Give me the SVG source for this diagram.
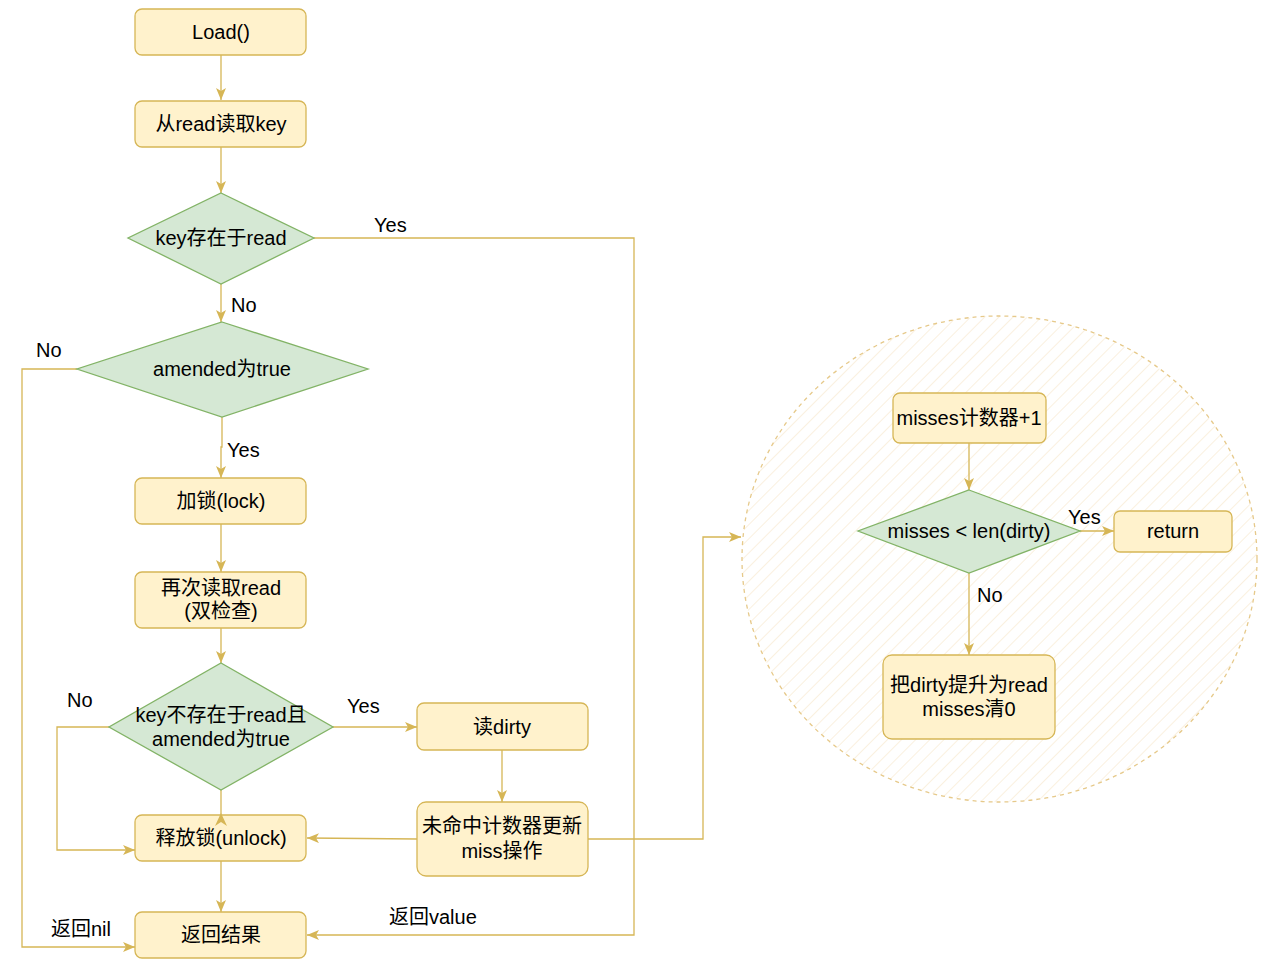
<svg xmlns="http://www.w3.org/2000/svg" width="1280" height="968" viewBox="0 0 1280 968">
<style>
.box{fill:#fff2cc;stroke:#d6b656;stroke-width:1.3}
.dia{fill:#d5e8d4;stroke:#82b366;stroke-width:1.3}
.t{font-family:"Liberation Sans","Noto Sans CJK SC",sans-serif;font-size:20px;fill:#000;text-anchor:middle;dominant-baseline:central}
.l{font-family:"Liberation Sans","Noto Sans CJK SC",sans-serif;font-size:20px;fill:#000;dominant-baseline:central}
.c{fill:none;stroke:#d6b656;stroke-width:1.3}
.a{marker-end:url(#arr)}
</style>
<defs>
<marker id="arr" viewBox="0 0 12 10" refX="12" refY="5" markerWidth="12" markerHeight="10" markerUnits="userSpaceOnUse" orient="auto">
<path d="M0,0 L12,5 L0,10 L3,5 Z" fill="#d6b656"/>
</marker>
<pattern id="hatch" patternUnits="userSpaceOnUse" width="10" height="10" patternTransform="rotate(45)">
<line x1="0" y1="0" x2="0" y2="10" stroke="#f5e2c0" stroke-width="1"/>
</pattern>
</defs>

<g id="subprocess">
<ellipse cx="999.5" cy="559" rx="257.5" ry="243" fill="#fff" stroke="none"/>
<ellipse cx="999.5" cy="559" rx="257.5" ry="243" fill="url(#hatch)" stroke="#e6c98a" stroke-width="1.3" stroke-dasharray="4 4"/>
</g>

<g id="connectors">
<path class="c a" d="M221,55 V100"/>
<path class="c a" d="M221,147 V193"/>
<path class="c a" d="M314,238 H634 V935 H307"/>
<path class="c a" d="M221,284 V322"/>
<path class="c a" d="M77,369 H22 V947 H135"/>
<path class="c a" d="M222,417 V447 H221 V478"/>
<path class="c a" d="M221,524 V572"/>
<path class="c a" d="M221,628 V663"/>
<path class="c a" d="M333,727 H417"/>
<path class="c a" d="M109,727 H57 V850 H135"/>
<path class="c" d="M221,790 V815"/>
<path class="c a" d="M502,750 V802"/>
<path class="c a" d="M417,839 L307,838"/>
<path class="c a" d="M588,839 H703 V537 H741"/>
<path class="c a" d="M221,861 V912"/>
<path class="c a" d="M969,443 V490"/>
<path class="c a" d="M1080,531 H1114"/>
<path class="c a" d="M969,573 V655"/>
<text class="l" x="374" y="225">Yes</text>
<text class="l" x="231" y="305">No</text>
<text class="l" x="36" y="350">No</text>
<text class="l" x="227" y="450">Yes</text>
<text class="l" x="67" y="700">No</text>
<text class="l" x="347" y="706">Yes</text>
<text class="l" x="389" y="917">返回value</text>
<text class="l" x="51" y="929">返回nil</text>
<text class="l" x="1068" y="517">Yes</text>
<text class="l" x="977" y="595">No</text>
</g>

<g id="load">
<rect class="box" x="135" y="9" width="171" height="46" rx="7"/>
<text class="t" x="221" y="32">Load()</text>
</g>
<g id="readkey">
<rect class="box" x="135" y="101" width="171" height="46" rx="7"/>
<text class="t" x="221" y="124">从read读取key</text>
</g>
<g id="inread">
<polygon class="dia" points="221,193 314,238 221,284 128,238"/>
<text class="t" x="221" y="238">key存在于read</text>
</g>
<g id="amended">
<polygon class="dia" points="222,322 368,369 222,417 77,369"/>
<text class="t" x="222" y="369">amended为true</text>
</g>
<g id="lock">
<rect class="box" x="135" y="478" width="171" height="46" rx="7"/>
<text class="t" x="221" y="501">加锁(lock)</text>
</g>
<g id="reread">
<rect class="box" x="135" y="572" width="171" height="56" rx="7"/>
<text class="t" x="221" y="588">再次读取read</text>
<text class="t" x="221" y="611">(双检查)</text>
</g>
<g id="check2">
<polygon class="dia" points="221,663 333,727 221,790 109,727"/>
<text class="t" x="221" y="715">key不存在于read且</text>
<text class="t" x="221" y="739">amended为true</text>
</g>
<g id="readdirty">
<rect class="box" x="417" y="703" width="171" height="47" rx="7"/>
<text class="t" x="502" y="727">读dirty</text>
</g>
<g id="miss">
<rect class="box" x="417" y="802" width="171" height="74" rx="9"/>
<text class="t" x="502" y="826">未命中计数器更新</text>
<text class="t" x="502" y="851">miss操作</text>
</g>
<g id="unlock">
<rect class="box" x="135" y="815" width="171" height="46" rx="7"/>
<text class="t" x="221" y="838">释放锁(unlock)</text>
</g>
<g id="result">
<rect class="box" x="135" y="912" width="171" height="46" rx="7"/>
<text class="t" x="221" y="935">返回结果</text>
</g>
<g id="missesinc">
<rect class="box" x="893" y="393" width="153" height="50" rx="7"/>
<text class="t" x="969" y="418">misses计数器+1</text>
</g>
<g id="missescmp">
<polygon class="dia" points="969,490 1080,531 969,573 858,531"/>
<text class="t" x="969" y="531">misses &lt; len(dirty)</text>
</g>
<g id="return">
<rect class="box" x="1114" y="511" width="118" height="41" rx="6"/>
<text class="t" x="1173" y="531">return</text>
</g>
<g id="promote">
<rect class="box" x="883" y="655" width="172" height="84" rx="9"/>
<text class="t" x="969" y="685">把dirty提升为read</text>
<text class="t" x="969" y="709">misses清0</text>
</g>

<g id="connector-overlay">
<path d="M221,813 L227,826 L221,822 L215,826 Z" fill="#d6b656"/>
</g>
</svg>
